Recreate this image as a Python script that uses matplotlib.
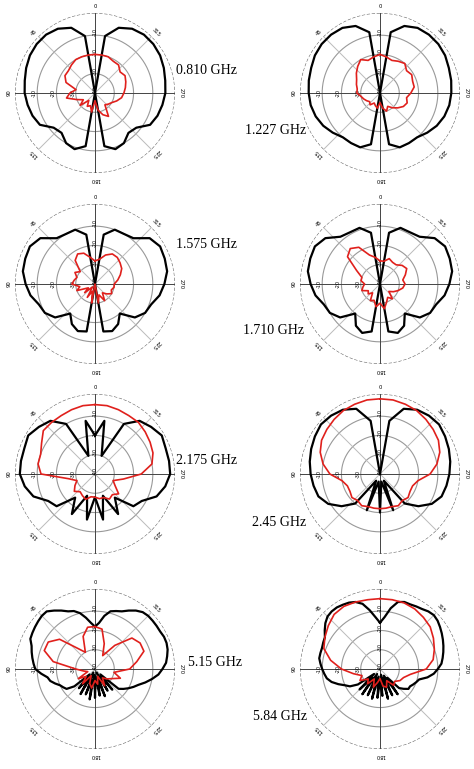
import numpy as np
import matplotlib
matplotlib.use("Agg")
import matplotlib.pyplot as plt

labels = ["0.810 GHz", "1.227 GHz", "1.575 GHz", "1.710 GHz",
          "2.175 GHz", "2.45 GHz", "5.15 GHz", "5.84 GHz"]

# dB values, angles equally spaced starting at 0 deg (counter-clockwise from top)
black_0810 = [-40,-10,-4,-1.5,-0.5,-0.5,-1,-2,-3,-3.5,-4.5,-5.5,-7,-12,-13,-10,-9,-12,-40,
              -12,-9,-10,-13,-12,-7,-5.5,-4.5,-3.5,-3,-2,-1,-0.5,-0.5,-1.5,-4,-10]
red_0810 = [-20,-20,-20,-20,-21,-22,-22,-24,-30,-27,-25,-30,-33,-30,-35,-32,-33,-30,-36,
            -31,-28,-26,-32,-31,-30,-28,-26,-25,-24,-23,-22,-23,-21,-21,-20,-20]
black_1227 = [-40,-8,-3,-1,-0.5,-0.5,-1,-2,-2.5,-3,-3.5,-4.5,-6,-8,-10,-10,-10,-13,-40,
              -13,-10,-10,-10,-8,-6,-4.5,-3.5,-3,-2.5,-2,-1,-0.5,-0.5,-1,-3,-8]
red_1227 = [-20,-21,-22,-20,-22,-24,-26,-27,-28,-28,-30,-31,-32,-33,-32,-34,-33,-32,-35,
            -32,-30,-32,-30,-28,-26,-25,-26,-24,-22,-22,-21,-22,-20,-21,-22,-21]
black_1575 = [-40,-14,-10,-10,-9,-3,-1,-1.5,-2,-4,-6,-9,-10,-13,-20,-16,-14,-15,-40,
              -15,-14,-16,-20,-13,-10,-9,-6,-4,-2,-1.5,-1,-3,-9,-10,-10,-14]
red_1575 = [-28,-26,-23,-22,-24,-30,-28,-30,-29,-28,-32,-30,-36,-33,-38,-32,-36,-30,-40,
            -30,-34,-30,-34,-32,-30,-31,-30,-30,-28,-26,-24,-23,-22,-22,-24,-27]
black_1710 = [-40,-13,-9,-9,-8,-3,-1,-1.5,-2,-4,-6,-9,-10,-13,-20,-15,-13,-15,-40,
              -15,-13,-15,-20,-13,-10,-9,-6,-4,-2,-1.5,-1,-3,-8,-9,-9,-13]
red_1710 = [-28,-26,-24,-18,-16,-18,-26,-30,-30,-32,-31,-30,-33,-32,-34,-30,-31,-28,-30,
            -27,-30,-32,-30,-34,-32,-30,-28,-27,-28,-26,-24,-25,-27,-27,-26,-28]
black_2175 = [-20,-12,-30,-10,-4,-2,0,-1,-1,-1,-3,-6,-12,-14,-24,-16,-28,-16,-28,
              -16,-28,-16,-24,-14,-12,-6,-3,-1,-1,-1,0,-2,-4,-10,-30,-12]
red_2175 = [-4,-4,-4.5,-5,-5,-5,-8,-10,-10,-12,-26,-30,-28,-26,-28,-27,-26,-28,-28,
            -27,-27,-25,-26,-24,-28,-30,-25,-16,-10,-8,-7,-6,-5,-5,-4.5,-4]
black_245 = [-40,-12,-4,-1.5,-0.5,0,-1,-2,-3,-4,-5,-6,-9,-14,-20,-36,-20,-36,-20,
             -36,-20,-36,-20,-14,-9,-6,-5,-4,-3,-2,-1,0,-0.5,-1.5,-4,-12]
red_245 = [-1,-1,-1.5,-2,-3,-4,-5,-7,-10,-14,-20,-22,-22,-21,-22,-21,-22,-22,-22,
           -22,-22,-21,-22,-21,-22,-22,-20,-14,-10,-7,-5,-4,-3,-2,-1.5,-1]
black_515 = [-18,-16,-13,-10,-8,-7,-5,-3,-1,-1,-1.5,-2,-2.5,-3,-5,-6,-7,-8,-9,-12,-15,-16,-18,-20,-21,-22,
             -26,-36,-27,-35,-25,-38,-26,-34,-24,-37,-25,-36,-26,-34,-25,-38,-27,-35,-26,-36,-24,
             -22,-20,-18,-16,-13,-10,-7,-5,-3,-2,-1,-0.5,-0.5,-1,-1,-1,-1,-1.5,-3,-5,-7,-8,-9,-12,-16]
red_515 = [-18,-18,-22,-30,-26,-16,-12,-12,-18,-30,-34,-36,-30,-34,-30,-36,-32,-30,-34,
           -32,-36,-30,-34,-32,-30,-26,-30,-22,-18,-13,-13,-15,-24,-32,-26,-19]
black_584 = [-16,-13,-9,-5,-3,-2,-1.5,-1,-1,-1.5,-3,-5,-7,-7.5,-8,-8,-8,-9,-10,-11,-12,-14,-17,-20,-22,
             -26,-36,-25,-34,-24,-37,-25,-35,-24,-36,-25,-34,-26,-37,-24,-35,-25,-36,-24,-34,-26,-24,
             -22,-22,-21,-20,-19,-15,-12,-10,-8,-7,-6,-5,-4,-3,-2,-1,-0.5,-1,-2,-2.5,-3,-3,-4,-8,-13]
red_584 = [-3.5,-3.5,-3,-2.5,-3,-5,-7,-9,-14,-20,-26,-30,-28,-32,-30,-34,-30,-33,-35,
           -31,-30,-33,-29,-30,-28,-27,-24,-16,-12,-10,-8,-6,-5,-4,-3.5,-3.5]

blacks = [black_0810, black_1227, black_1575, black_1710, black_2175, black_245, black_515, black_584]
reds = [red_0810, red_1227, red_1575, red_1710, red_2175, red_245, red_515, red_584]

W, H = 474, 769
fig = plt.figure(figsize=(W/100, H/100), dpi=100)
centers_x = [95, 380]
centers_y = [93, 284, 474, 669]
R = 80
TOP = 1.5
label_pos = [(176, 70), (245, 130), (176, 245), (243, 330),
             (176, 460), (252, 522), (188, 663), (253, 717)]

def polar_line(ax, vals, **kw):
    v = np.array(vals + [vals[0]], dtype=float)
    th = np.deg2rad(np.linspace(0, 360, len(vals) + 1))
    ax.plot(th, v, **kw)

for i in range(8):
    cx = centers_x[i % 2]
    cy = centers_y[i // 2]
    ax = fig.add_axes([(cx - R)/W, 1 - (cy + R)/H, 2*R/W, 2*R/H], projection='polar')
    ax.set_theta_zero_location('N')
    ax.set_theta_direction(1)
    ax.set_ylim(-40, TOP)
    ax.grid(False)
    ax.set_xticks([]); ax.set_yticks([])
    ax.spines['polar'].set_visible(False)
    full = np.linspace(0, 2*np.pi, 361)
    for rr in [-30, -20, -10]:
        ax.plot(full, np.full_like(full, rr), color='#999999', lw=0.8)
    ax.plot(full, np.full_like(full, TOP), color='#666666', lw=0.8, ls=(0, (3, 1.5)))
    for a in [45, 135, 225, 315]:
        ax.plot([np.deg2rad(a)]*2, [-40, TOP], color='#bbbbbb', lw=0.7)
    for a in [0, 90, 180, 270]:
        ax.plot([np.deg2rad(a)]*2, [-40, TOP], color='#444444', lw=0.7)
    for a in [0, 45, 90, 135, 180, 225, 270, 315]:
        ax.text(np.deg2rad(a), TOP + 3.2, str(a), fontsize=3.8, rotation=a,
                ha='center', va='center', family='DejaVu Sans', clip_on=False)
    for rr in [-10, -20, -30, -40]:
        ax.text(0, rr + 1.5, str(rr), fontsize=3.5, rotation=90, ha='center', va='center')
        if rr != -40:
            ax.text(np.pi/2, rr + 1.5, str(rr), fontsize=3.5, rotation=90, ha='center', va='center')
    polar_line(ax, blacks[i], color='black', lw=1.6, zorder=3)
    polar_line(ax, reds[i], color='#e0201c', lw=1.2, zorder=4)
    lx, ly = label_pos[i]
    fig.text(lx/W, 1 - ly/H, labels[i], fontsize=10, family='Liberation Serif',
             ha='left', va='center')

fig.savefig('out.png', dpi=100)
